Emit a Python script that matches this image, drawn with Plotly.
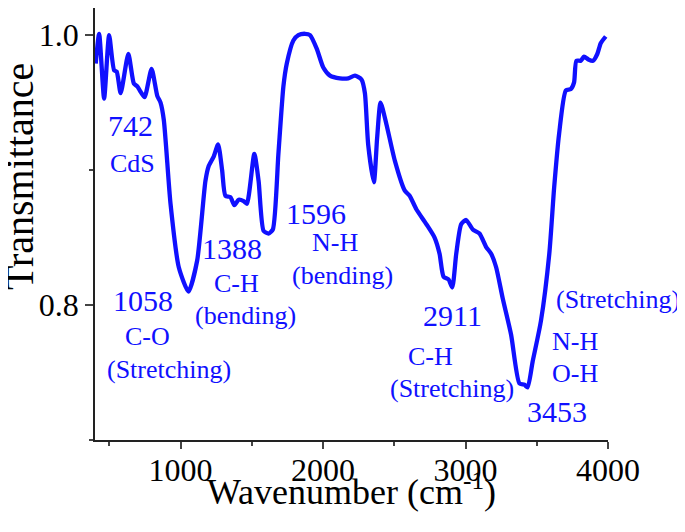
import plotly.graph_objects as go

# FTIR spectrum
wavenumber = [405, 429, 464, 499, 534, 552, 580, 634, 673, 697, 720, 748, 797, 837, 860,
              883, 930, 988, 1056, 1117, 1175, 1198, 1233, 1264, 1292, 1315, 1350, 1378,
              1408, 1443, 1466, 1518, 1548, 1583, 1618, 1648, 1687, 1722, 1746, 1792, 1827,
              1874, 1909, 1956, 2002, 2049, 2119, 2177, 2224, 2271, 2294, 2317, 2357, 2380,
              2404, 2445, 2504, 2573, 2608, 2655, 2725, 2783, 2818, 2846, 2881, 2907, 2935,
              2970, 3005, 3051, 3098, 3145, 3180, 3215, 3261, 3320, 3378, 3413, 3436, 3471,
              3529, 3588, 3622, 3657, 3704, 3739, 3762, 3778, 3809, 3832, 3862, 3895, 3925,
              3949, 3984]
transmittance = [0.979, 1.001, 0.953, 1.000, 0.974, 0.973, 0.957, 0.986, 0.964, 0.962, 0.958,
                 0.954, 0.975, 0.955, 0.950, 0.937, 0.875, 0.828, 0.810, 0.833, 0.892, 0.903,
                 0.910, 0.919, 0.900, 0.881, 0.880, 0.874, 0.878, 0.877, 0.875, 0.912, 0.892,
                 0.855, 0.853, 0.856, 0.912, 0.962, 0.979, 0.996, 1.000, 1.001, 1.000, 0.990,
                 0.976, 0.970, 0.968, 0.968, 0.970, 0.967, 0.957, 0.919, 0.891, 0.924, 0.950,
                 0.934, 0.907, 0.885, 0.881, 0.871, 0.860, 0.850, 0.838, 0.821, 0.819, 0.813,
                 0.838, 0.860, 0.863, 0.856, 0.853, 0.843, 0.838, 0.828, 0.805, 0.778, 0.742,
                 0.741, 0.739, 0.758, 0.788, 0.838, 0.887, 0.927, 0.959, 0.960, 0.965, 0.981,
                 0.981, 0.984, 0.982, 0.981, 0.986, 0.994, 0.999]

# peak labels: text, x, y, font size
label_text = ["742", "CdS", "1058", "C-O", "(Stretching)", "1388", "C-H", "(bending)",
              "1596", "N-H", "(bending)", "2911", "C-H", "(Stretching)", "3453",
              "(Stretching)", "N-H", "O-H"]
label_x = [650, 664, 734, 769, 916, 1364, 1392, 1455, 1951, 2084, 2140, 2909, 2755, 2902,
           3643, 3990, 3769, 3769]
label_y = [0.933, 0.905, 0.803, 0.777, 0.752, 0.842, 0.816, 0.792, 0.868, 0.846, 0.822,
           0.792, 0.762, 0.738, 0.721, 0.804, 0.773, 0.749]
label_size = [30, 26, 30, 26, 26, 30, 26, 26, 30, 26, 26, 30, 26, 26, 30, 26, 26, 26]

blue = "#1010ff"
serif = "'Liberation Serif', 'Times New Roman', Times, serif"

fig = go.Figure()
fig.add_trace(go.Scatter(x=wavenumber, y=transmittance, mode="lines",
                         line=dict(color=blue, width=4.3, shape="spline", smoothing=0.6),
                         hoverinfo="skip", showlegend=False))

for t, x, y, s in zip(label_text, label_x, label_y, label_size):
    # the last "(Stretching)" sits past 4000, so it is nudged out in pixels
    shift = 11 if x > 3985 else 0
    fig.add_annotation(x=min(x, 3999), y=y, text=t, showarrow=False, xshift=shift,
                       xanchor="center", yanchor="middle",
                       font=dict(family=serif, size=s, color=blue))

# axis titles
fig.add_annotation(xref="paper", yref="paper", x=0.5, y=-0.115, text="Wavenumber (cm<sup>-1</sup>)",
                   xanchor="center", yanchor="middle",
                   showarrow=False, font=dict(family=serif, size=36, color="black"))
fig.add_annotation(xref="paper", yref="paper", x=-0.147, y=0.61, text="Transmittance",
                   xanchor="center", yanchor="middle",
                   textangle=-90, showarrow=False, font=dict(family=serif, size=40, color="black"))

fig.update_layout(
    width=685, height=532,
    margin=dict(l=87, r=85, t=0, b=100),
    paper_bgcolor="white", plot_bgcolor="white",
    font=dict(family=serif, color="black"),
)
fig.update_xaxes(range=[400, 4000], dtick=1000, tick0=0, ticks="outside", ticklen=7,
                 tickwidth=1.5, showline=True, linecolor="#222", linewidth=1.5,
                 showgrid=False, zeroline=False, tickfont=dict(family=serif, size=32),
                 automargin=False, ticklabelstandoff=-6,
                 minor=dict(dtick=500, ticks="outside", ticklen=4, tickwidth=1.5))
fig.update_yaxes(range=[0.7, 1.0201], dtick=0.2, tick0=0, tickformat=".1f", ticks="outside",
                 ticklen=8, tickwidth=1.5, showline=True, linecolor="#222", linewidth=1.5,
                 showgrid=False, zeroline=False, tickfont=dict(family=serif, size=32),
                 automargin=False,
                 minor=dict(dtick=0.1, ticks="outside", ticklen=4, tickwidth=1.5))

fig.write_html("out.html")
